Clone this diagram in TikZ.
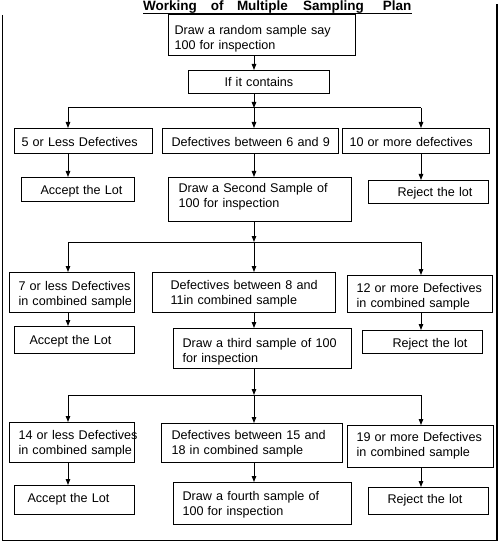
\documentclass[tikz,border=0pt]{standalone}
\usepackage{fontspec}
\setmainfont{Liberation Sans}
\usetikzlibrary{arrows.meta}
\tikzset{
  bx/.style={draw, line width=1bp, anchor=north west, inner sep=0pt, align=left,
    font=\fontsize{12.6bp}{15bp}\selectfont},
  geom/.style n args={4}{text width=#1bp, text height=#2bp, text depth=#3bp,
    execute at begin node={\leftskip=#4bp\rightskip=-40bp plus 1fil}},
  ln/.style={line width=1bp},
  arr/.style={line width=1bp, -{Triangle[length=6bp,width=4.5bp]}},
  frame/.style={line width=1.2bp},
  titlefont/.style={font=\bfseries\fontsize{13.5bp}{16bp}\selectfont, inner sep=0pt, anchor=base west}
}
\begin{document}
\begin{tikzpicture}[x=1bp,y=-1bp]
\useasboundingbox (0,0) rectangle (501,543);
% frame
\draw[frame] (2.5,15) -- (2.5,540.5) -- (497,540.5) -- (497,4);
% title
\node[titlefont] (title) at (143,11) {Working\hspace{14bp}of\hspace{13.3bp}Multiple\hspace{15bp}Sampling\hspace{19.2bp}Plan};
\draw[line width=1.3bp] ([yshift=-2.3bp]title.base west) -- ([yshift=-2.3bp]title.base east);
% column coordinates
\coordinate (cl) at (68,0);
\coordinate (cm) at (254,0);
\coordinate (cr) at (421,0);
\coordinate (j1l) at (68,108); \coordinate (j1) at (254,108); \coordinate (j1r) at (421,108);
\coordinate (j2l) at (68,242); \coordinate (j2) at (254,242); \coordinate (j2r) at (421,242);
\coordinate (j3l) at (68,395); \coordinate (j3) at (254,395); \coordinate (j3r) at (421,395);
% boxes
\node[bx, geom={187}{19.7}{21.3}{6}] (s1) at (168,14) {Draw a random sample say\\100 for inspection};
\node[bx, geom={141}{16.5}{6.5}{36}] (s2) at (188,70) {If it contains};
\node[bx, geom={138}{17.7}{7.3}{7}] (a1) at (14,128) {5 or Less Defectives};
\node[bx, geom={176}{17.7}{7.3}{9}] (b1) at (162,128) {Defectives between 6 and 9};
\node[bx, geom={147}{17.7}{7.3}{7}] (c1) at (342,128) {10 or more defectives};
\node[bx, geom={113}{17}{7}{19}] (a2) at (21,177) {Accept the Lot};
\node[bx, geom={183}{15.5}{28.5}{10}] (b2) at (168,177) {Draw a Second Sample of\\100 for inspection};
\node[bx, geom={120}{16.5}{6.5}{29}] (c2) at (368,180) {Reject the lot};
\node[bx, geom={125}{17.5}{22.5}{9}] (a3) at (9,272) {7 or less Defectives\\in combined sample};
\node[bx, geom={183}{16.5}{23.5}{18}] (b3) at (152,272) {Defectives between 8 and\\11in combined sample};
\node[bx, geom={145}{16.5}{20.5}{9}] (c3) at (347,275) {12 or more Defectives\\in combined sample};
\node[bx, geom={120}{18}{9}{15}] (a4) at (14,326) {Accept the Lot};
\node[bx, geom={178}{18.5}{21.5}{9}] (b4) at (173,328) {Draw a third sample of 100\\for inspection};
\node[bx, geom={120}{17}{6}{30}] (c4) at (362,330) {Reject the lot};
\node[bx, geom={125}{16.5}{23.5}{9}] (a5) at (9,422) {14 or less Defectives\\in combined sample};
\node[bx, geom={181}{15.5}{23.5}{10}] (b5) at (161,423) {Defectives between 15 and\\18 in combined sample};
\node[bx, geom={146}{16}{26}{9}] (c5) at (347,425) {19 or more Defectives\\in combined sample};
\node[bx, geom={120}{17}{12}{13}] (a6) at (14,485) {Accept the Lot};
\node[bx, geom={178}{17.5}{24.5}{9}] (b6) at (173,482) {Draw a fourth sample of\\100 for inspection};
\node[bx, geom={120}{16}{11}{19}] (c6) at (368,487) {Reject the lot};
% connectors
\draw[arr] (s1.south -| cm) -- (s2.north -| cm);
\draw[arr] (s2.south -| cm) -- (j1);
\draw[ln] (j1l) -- (j1r);
\draw[arr] (j1l) -- (a1.north -| cl);
\draw[arr] (j1) -- (b1.north -| cm);
\draw[arr] (j1r) -- (c1.north -| cr);
\draw[arr] (a1.south -| cl) -- (a2.north -| cl);
\draw[arr] (b1.south -| cm) -- (b2.north -| cm);
\draw[arr] (c1.south -| cr) -- (c2.north -| cr);
\draw[arr] (b2.south -| cm) -- (j2);
\draw[ln] (j2l) -- (j2r);
\draw[arr] (j2l) -- (a3.north -| cl);
\draw[arr] (j2) -- (b3.north -| cm);
\draw[arr] (j2r) -- (c3.north -| cr);
\draw[arr] (a3.south -| cl) -- (a4.north -| cl);
\draw[arr] (b3.south -| cm) -- (b4.north -| cm);
\draw[arr] (c3.south -| cr) -- (c4.north -| cr);
\draw[arr] (b4.south -| cm) -- (j3);
\draw[ln] (j3l) -- (j3r);
\draw[arr] (j3l) -- (a5.north -| cl);
\draw[arr] (j3) -- (b5.north -| cm);
\draw[arr] (j3r) -- (c5.north -| cr);
\draw[arr] (a5.south -| cl) -- (a6.north -| cl);
\draw[arr] (b5.south -| cm) -- (b6.north -| cm);
\draw[arr] (c5.south -| cr) -- (c6.north -| cr);
\end{tikzpicture}
\end{document}
